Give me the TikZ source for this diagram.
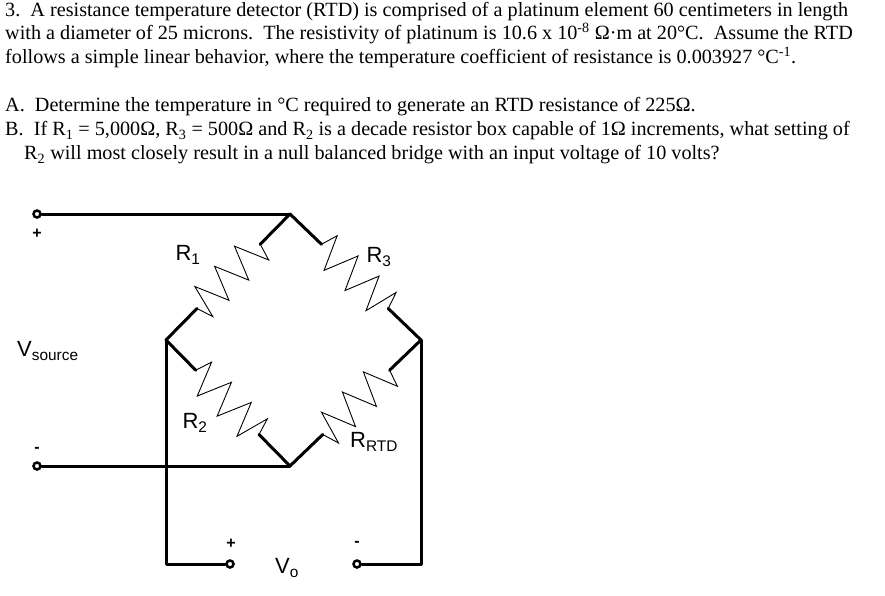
\documentclass[tikz,border=0pt]{standalone}
\usepackage{fontspec}
\setmainfont{Liberation Serif}
\newfontfamily\arial{Liberation Sans}
\usetikzlibrary{calc}
\tikzset{wire/.style={line width=3pt,line cap=round,line join=round},
zig/.style={line width=0.9pt,line join=miter},
term/.style={circle,draw,line width=2.5pt,fill=white,inner sep=0pt,minimum size=7pt},
txt/.style={anchor=base west,inner sep=0pt,font=\fontsize{20.2}{23}\selectfont},
lab/.style={inner sep=0pt,font=\arial\fontsize{22}{24}\selectfont},
pm/.style={inner sep=0pt,font=\arial\bfseries\fontsize{16}{18}\selectfont}}
\newcommand\myres[2]{%
 \draw[wire] (#1) -- ($(#1)!0.24!(#2)$);
 \draw[wire] ($(#1)!0.75!(#2)$) -- (#2);
 \draw[zig] ($(#1)!0.24!(#2)$) -- ($(#1)!0.27!(#2)!17pt!90:(#2)$) -- ($(#1)!0.35!(#2)!17pt!-90:(#2)$)
 -- ($(#1)!0.43!(#2)!17pt!90:(#2)$) -- ($(#1)!0.51!(#2)!17pt!-90:(#2)$)
 -- ($(#1)!0.59!(#2)!17pt!90:(#2)$) -- ($(#1)!0.67!(#2)!17pt!-90:(#2)$)
 -- ($(#1)!0.72!(#2)!17pt!90:(#2)$) -- ($(#1)!0.75!(#2)$);}
\begin{document}
\begin{tikzpicture}[x=1pt,y=-1pt]
\useasboundingbox (0,0) rectangle (885,596);
\node[txt] (t1) at (5,17) {3.\ \ A resistance temperature detector (RTD) is comprised of a platinum element 60 centimeters in length};
\node[txt] (t2) at (5,40) {with a diameter of 25 microns.\ \ The resistivity of platinum is 10.6 x 10\textsuperscript{-8} Ω·m at 20°C.\ \ Assume the RTD};
\node[txt] (t3) at (5,64) {follows a simple linear behavior, where the temperature coefficient of resistance is 0.003927 °C\textsuperscript{-1}.};
\node[txt] (t4) at (5,112) {A.\ \ Determine the temperature in °C required to generate an RTD resistance of 225Ω.};
\node[txt] (t5) at (5,136) {B.\ \ If R\textsubscript{1} = 5,000Ω, R\textsubscript{3} = 500Ω and R\textsubscript{2} is a decade resistor box capable of 1Ω increments, what setting of};
\node[txt] (t6) at (24,160) {R\textsubscript{2} will most closely result in a null balanced bridge with an input voltage of 10 volts?};
\coordinate (T) at (290,214); \coordinate (L) at (166,340);
\coordinate (R) at (421,340); \coordinate (B) at (290,466);
\coordinate (c1) at (166,564); \coordinate (c2) at (421,564);
\node[term] (sp) at (37,214) {}; \node[term] (sm) at (37,466) {};
\node[term] (op) at (230,564) {}; \node[term] (om) at (357,564) {};
\draw[wire] (sp) -- (T); \draw[wire] (sm) -- (B);
\draw[wire] (L) -- (c1) -- (op); \draw[wire] (R) -- (c2) -- (om);
\myres{T}{L} \myres{T}{R} \myres{L}{B} \myres{R}{B}
\node[lab] (l1) at (188,255) {R\textsubscript{1}};
\node[lab] (l3) at (379,257) {R\textsubscript{3}};
\node[lab] (l2) at (195,423) {R\textsubscript{2}};
\node[lab] (l4) at (374,442) {R\textsubscript{RTD}};
\node[lab,anchor=west] (vs) at (17,351) {V\textsubscript{source}};
\node[lab] (vo) at (287,568) {V\textsubscript{o}};
\node[pm] (p1) at (37,234) {+};
\node[pm] (m1) at (37,450) {-};
\node[pm] (p2) at (231,544) {+};
\node[pm] (m2) at (357,544) {-};
\end{tikzpicture}
\end{document}
